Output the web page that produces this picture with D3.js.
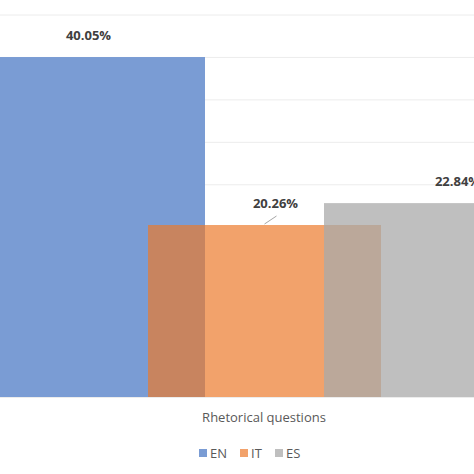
<!DOCTYPE html><html><head><script src="https://cdn.jsdelivr.net/npm/d3@7"></script>
<style>body{margin:0;background:#fff}</style></head><body><svg id="c" width="474" height="474"></svg>
<script>
const series=["EN","IT","ES"];
const values=[40.05,20.26,22.84];
const labels=["40.05%","20.26%","22.84%"];
const colors=["#7a9cd4","#f2a26b","#bfbfbf"];
const overlapColors=["#c8845f","#bba89a"];
const gridTicks=[0,5,10,15,20,25,30,35,40,45];
const category="Rhetorical questions";
const svg=d3.select("#c");
const y=d3.scaleLinear().domain([0,45]).range([397,15]);
const x=d3.scaleLinear().domain([0,2]).range([88.5,440.5]);
const w=233;
svg.selectAll("line.g").data(gridTicks).join("line").attr("x1",0).attr("x2",474)
 .attr("y1",d=>y(d)).attr("y2",d=>y(d)).attr("stroke",d=>d===0?"#d9d9d9":"#ececec").attr("stroke-width",1);
svg.selectAll("rect.b").data(values).join("rect").attr("x",(d,i)=>x(i)-w/2).attr("width",w)
 .attr("y",d=>y(d)).attr("height",d=>y(0)-y(d)).attr("fill",(d,i)=>colors[i]);
// overlaps
for(let i=1;i<values.length;i++){
 const x0=x(i)-w/2,x1=x(i-1)+w/2,top=Math.max(y(values[i]),y(values[i-1]));
 svg.append("rect").attr("x",x0).attr("width",x1-x0).attr("y",top).attr("height",y(0)-top).attr("fill",overlapColors[i-1]);
}
const lp=[[x(0),y(values[0])-17],[x(1)+11,y(values[1])-17],[x(2)+17,y(values[2])-17]];
svg.selectAll("text.l").data(labels).join("text").attr("x",(d,i)=>lp[i][0]).attr("y",(d,i)=>lp[i][1])
 .attr("text-anchor","middle").attr("font-family","Open Sans, sans-serif").attr("font-weight","bold")
 .attr("font-size",13).attr("fill","#404040").text(d=>d);
svg.append("line").attr("x1",x(1)).attr("y1",y(values[1])-1).attr("x2",x(1)+12).attr("y2",y(values[1])-9).attr("stroke","#a6a6a6");
svg.append("text").attr("x",264).attr("y",422).attr("text-anchor","middle").attr("font-family","Open Sans, sans-serif")
 .attr("font-size",13).attr("fill","#595959").text(category);
const lx=[199,240,275];
const lg=svg.selectAll("g.lg").data(series).join("g").attr("transform",(d,i)=>`translate(${lx[i]},453)`);
lg.append("rect").attr("x",0).attr("y",-4).attr("width",8).attr("height",8).attr("fill",(d,i)=>colors[i]);
lg.append("text").attr("x",11).attr("y",5).attr("font-family","Open Sans, sans-serif").attr("font-size",13).attr("fill","#595959").text(d=>d);
</script></body></html>
